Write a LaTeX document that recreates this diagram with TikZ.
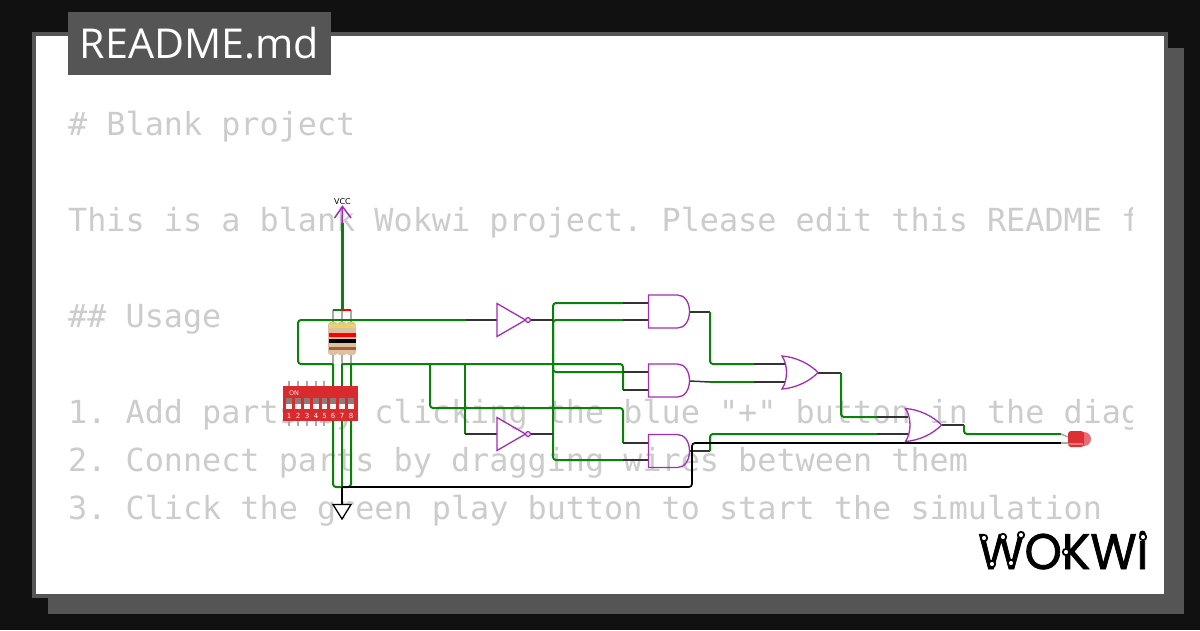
\documentclass[tikz,border=0pt]{standalone}
\usepackage{fontspec}
\setmainfont{Open Sans}
\newfontfamily\monof{DejaVu Sans Mono}
\newfontfamily\smallf{DejaVu Sans}
\newfontfamily\logof[FakeBold=1.6]{Poppins}
\definecolor{bgdark}{HTML}{111111}
\definecolor{framegray}{HTML}{555555}
\definecolor{mdgray}{HTML}{CCCCCC}
\definecolor{wiregreen}{HTML}{0A820A}
\definecolor{gatepurple}{HTML}{A32CB8}
\definecolor{stubdark}{HTML}{333333}
\definecolor{dipred}{HTML}{D92B2D}
\definecolor{swgray}{HTML}{8C7A78}
\definecolor{restan}{HTML}{DDBFA3}
\definecolor{bandyellow}{HTML}{EAD36A}
\definecolor{bandbrown}{HTML}{A0622E}
\definecolor{leadgray}{HTML}{AAAAAA}
\definecolor{ledred}{HTML}{DD3035}
\tikzset{
  mdline/.style={anchor=base west,text=mdgray,inner sep=0pt,font=\frenchspacing\monof\fontsize{31.8}{32}\selectfont},
  wire/.style={draw=wiregreen,line width=2pt,rounded corners=3pt},
  blackwire/.style={draw=black,line width=1.7pt,rounded corners=3pt},
  stub/.style={draw=stubdark,line width=1.5pt},
  gateline/.style={draw=gatepurple,line width=1.3pt,fill=none,line join=miter},
  lead/.style={draw=leadgray,line width=1.5pt},
  diplabel/.style={text=white,inner sep=0pt,font=\smallf\fontsize{7}{7}\selectfont},
  pics/andgate/.style={code={\draw[gateline] (0,0) -- (29,0) .. controls (36,0) and (41,7) .. (41,16.5) .. controls (41,26) and (36,33) .. (29,33) -- (0,33) -- cycle;}},
  pics/orgate/.style={code={\draw[gateline] (0,0) .. controls (14,1) and (28,8) .. (36,16.5) .. controls (28,25) and (14,32) .. (0,33) .. controls (6,24) and (6,9) .. (0,0) -- cycle;}},
  pics/notgate/.style={code={\draw[gateline] (0,-16.5) -- (28.5,0) -- (0,16.5) -- cycle; \draw[gateline,fill=white] (31,0) circle (2.4);}},
}
\begin{document}
\begin{tikzpicture}[x=1pt,y=-1pt]
\useasboundingbox (0,0) rectangle (1200,630);
\fill[bgdark] (0,0) rectangle (1200,630);
\fill[framegray] (48,48) rectangle (1184,614);
\fill[framegray] (32,32) rectangle (1168,598);
\fill[white] (36,36) rectangle (1164,594);
\fill[framegray] (68,12) rectangle (331,75);
\node[anchor=base west,text=white,inner sep=0pt,font=\fontsize{41.2}{41}\selectfont] (title) at (79.5,58) {README.md};
\begin{scope}
\clip (36,36) rectangle (1132,594);
\node[mdline] (l1) at (68,135) {\# Blank project};
\node[mdline] (l2) at (68,231) {This is a blank Wokwi project. Please edit this README f};
\node[mdline] (l3) at (68,327) {\#\# Usage};
\node[mdline] (l4) at (68,423) {1. Add parts by clicking the blue "+" button in the diag};
\node[mdline] (l5) at (68,471) {2. Connect parts by dragging wires between them};
\node[mdline] (l6) at (68,519) {3. Click the green play button to start the simulation};
\end{scope}
% logo
\node[anchor=base west,inner sep=0pt,text=black,font=\logof\fontsize{50}{50}\selectfont,xscale=0.95] (logo) at (978,569) {WOKWi};
\foreach \p in {(984,538),(1003,537),(1021,535),(992,564),(1011,563),(1066,552),(1143,537)}{
  \draw[black,line width=1.8pt,fill=white] \p circle (3.2);
}
% named pins
\coordinate (vcc) at (342,223);
\coordinate (rtop) at (342,310);
\coordinate (r1t) at (333,310);
\coordinate (r3t) at (351,310);
\coordinate (n1in) at (497,320);
\coordinate (n1st) at (466,320);
\coordinate (n1out) at (530.5,320);
\coordinate (n2in) at (497,434);
\coordinate (n2st) at (465,434);
\coordinate (n2out) at (530.5,434);
\coordinate (a1a) at (648.5,303);
\coordinate (a1b) at (648.5,320);
\coordinate (a2a) at (648.5,372);
\coordinate (a2b) at (648.5,390);
\coordinate (a3a) at (648.5,443);
\coordinate (a3b) at (648.5,460);
\coordinate (a1as) at (623,303);
\coordinate (a1bs) at (623,320);
\coordinate (a2as) at (623,372);
\coordinate (a2bs) at (623,390);
\coordinate (a3as) at (623,443);
\coordinate (a3bs) at (623,460);
\coordinate (a1o) at (689.5,312);
\coordinate (a2o) at (689.5,381);
\coordinate (a3o) at (689.5,451);
\coordinate (o1a) at (785,364);
\coordinate (o1b) at (785,382);
\coordinate (o1as) at (754,364);
\coordinate (o1bs) at (754,382);
\coordinate (o1o) at (818,373);
\coordinate (o2a) at (908,417);
\coordinate (o2b) at (908,434);
\coordinate (o2as) at (877,417);
\coordinate (o2bs) at (877,434);
\coordinate (o2o) at (942,425);
\coordinate (ledA) at (1068,437);
\coordinate (ledC) at (1068,443);
\coordinate (gndj) at (342,487);
\coordinate (gnd) at (342,505);
% resistor and DIP leads
\foreach \x in {333,342,351}{
  \draw[lead] (\x,310) -- (\x,386);
  \draw[lead] (\x,421) -- (\x,426);
}
\foreach \x in {289,298,307,316,324}{
  \draw[draw=leadgray,line width=1.2pt] (\x,381) -- (\x,426);
}
% wires under components
\draw[wire] (n1st) -| (298,364) -- (333,364);
\draw[wire] (342,364) -| (a2bs);
\draw[wire] (430,364) |- (623,408) -- (a3as);
\draw[wire] (465,364) |- (n2st);
\draw[wire] (333,364) |- (gndj);
\draw[wire] (351,364) |- (gndj);
\draw[wire] (342,364) -- (gndj);
\draw[wire] (a1as) -| (553,460) -- (a3bs);
\draw[wire] (a1bs) -- (553,320) -- (553,372) -- (a2as);
\draw[wire,line width=3pt] (vcc) -- (rtop);
\draw[wire] (rtop) -- (r1t);
\draw[draw=red,line width=1.8pt] (rtop) -- (r3t);
% resistors
\foreach \x in {333,342,351}{
  \fill[restan,rounded corners=3pt] (\x-5,322) rectangle (\x+5,355);
}
\fill[bandyellow] (329,323.5) rectangle (356,327.5);
\fill[red] (329,333) rectangle (356,337);
\fill[black] (329,339) rectangle (356,343);
\fill[bandbrown] (329,346.5) rectangle (356,350);
\draw[wire] (308,320) -- (n1st);
% DIP
\fill[dipred] (283,386) rectangle (358,421);
\node[diplabel,font=\smallf\fontsize{6.5}{6.5}\selectfont,text=white!85!dipred] (on) at (294,393) {ON};
\foreach \x/\n in {289/1,298/2,307/3,316/4,324.5/5,333/6,342/7,351/8}{
  \fill[swgray] (\x-2.8,398) rectangle (\x+2.8,404);
  \fill[white!92!swgray] (\x-2.8,404) rectangle (\x+2.8,409);
  \node[diplabel] (sw\n) at (\x,416) {\n};
}
% stubs
\draw[stub] (n1st) -- (n1in);
\draw[stub] (n1out) -- (553,320);
\draw[stub] (n2st) -- (n2in);
\draw[stub] (n2out) -- (553,434);
\foreach \s/\e in {a1as/a1a,a1bs/a1b,a2as/a2a,a2bs/a2b,a3as/a3a,a3bs/a3b,o1as/o1a,o1bs/o1b,o2as/o2a,o2bs/o2b}{
  \draw[stub] (\s) -- (\e);
}
\draw[stub] (a1o) -- (710,312);
\draw[stub] (a2o) -- (710,382);
\draw[stub] (a3o) -- (710,451);
\draw[stub] (o1o) -- (841,373);
\draw[stub] (o2o) -- (964,425);
% output wires
\draw[wire] (710,312) |- (o1as);
\draw[wire] (710,382) -- (o1bs);
\draw[wire] (841,373) |- (o2as);
\draw[wire] (710,451) |- (o2bs);
\draw[wire] (964,425) |- (1061,434);
\draw[blackwire] (gndj) -- (692,487) |- (1061,443);
\draw[blackwire] (gndj) -- (gnd);
\draw[lead] (1061,434) -- (ledA);
\draw[lead] (1061,443) -- (ledC);
% gates
\pic at (n1in) {notgate};
\pic at (n2in) {notgate};
\pic at (648.5,295) {andgate};
\pic at (648.5,364) {andgate};
\pic at (648.5,434.5) {andgate};
\pic at (782,356) {orgate};
\pic at (905.5,408.5) {orgate};
% vcc
\draw[draw=gatepurple,line width=1.5pt] (334.5,218) -- (342.5,206.5) -- (351,218);
\draw[draw=gatepurple,line width=1.5pt] (342.5,207) -- (vcc);
\node[inner sep=0pt,text=black,font=\smallf\fontsize{8}{8}\selectfont] (vcclabel) at (342.5,202) {VCC};
% gnd
\draw[draw=black,line width=1.3pt,fill=white,line join=miter] (333,504.5) -- (351,504.5) -- (342,519) -- cycle;
% LED
\fill[ledred!70,rounded corners=7pt] (1074,432) rectangle (1091,446);
\fill[ledred,rounded corners=3pt] (1068,431) rectangle (1084,447);
\fill[white!35!ledred] (1068,443) rectangle (1083,445);
\end{tikzpicture}
\end{document}
